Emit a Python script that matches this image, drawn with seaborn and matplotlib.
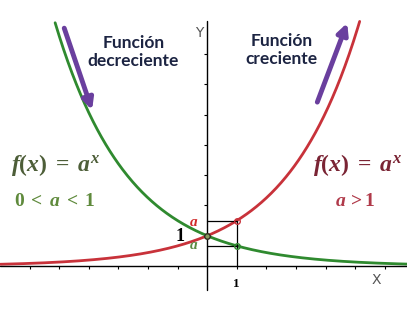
import numpy as np
import pandas as pd
import matplotlib
matplotlib.use("Agg")
import matplotlib.pyplot as plt
import seaborn as sns

# ---- data ----
base_up = 1.5            # a > 1
base_down = 1 / 1.5      # 0 < a < 1
y_cap = 8.1
x_grid = np.linspace(-7.2, 7.0, 600)
x_ticks = [-6, -5, -4, -3, -2, -1, 1, 2, 3, 4, 5, 6]
y_ticks = [1, 2, 3, 4, 5, 6, 7]
title_left = "Función\ndecreciente"
title_right = "Función\ncreciente"

sns.set_style("white")
plt.rcParams["mathtext.fontset"] = "custom"
plt.rcParams["mathtext.it"] = "Liberation Serif:italic:bold"
plt.rcParams["mathtext.rm"] = "Liberation Serif:bold"
plt.rcParams["mathtext.bf"] = "Liberation Serif:bold"

up = pd.DataFrame({"x": x_grid, "y": base_up ** x_grid})
up = up[up["y"] <= y_cap]
down = pd.DataFrame({"x": x_grid, "y": base_down ** x_grid})
down = down[down["y"] <= y_cap]

fig = plt.figure(figsize=(4.07, 3.10), dpi=100)
ax = fig.add_axes([0, 0, 1, 1])
ax.set_xlim(-7.0, 6.75)
ax.set_ylim(-1.45, 8.78)
ax.axis("off")

red = "#c8323a"
green = "#2f8a2f"
sns.lineplot(data=up, x="x", y="y", ax=ax, color=red, lw=2.0)
sns.lineplot(data=down, x="x", y="y", ax=ax, color=green, lw=2.0)

# axes
ax.plot([-7.0, 6.75], [0, 0], color="black", lw=1.0)
ax.plot([0, 0], [-0.79, 8.1], color="black", lw=1.0)
ax.vlines(x_ticks, -0.1, 0, color="black", lw=0.8)
ax.hlines(y_ticks, -0.1, 0, color="black", lw=0.8)

# helper lines
ax.plot([0, 1], [base_up, base_up], color="black", lw=0.9)
ax.plot([0, 1], [base_down, base_down], color="black", lw=0.9)
ax.plot([1, 1], [0, base_up], color="black", lw=0.9)

ax.plot([0], [1], marker="o", ms=4, mfc="#8a9a60", mec="#303020", mew=1)
ax.plot([1], [base_up], marker="o", ms=4, mfc="none", mec=red, mew=1)
ax.plot([1], [base_down], marker="o", ms=4, mfc="none", mec=green, mew=1)

# axis labels
ax.text(-0.27, 7.69, "Y", color="#555555", fontsize=10, ha="center", va="center")
ax.text(5.7, -0.46, "X", color="#555555", fontsize=10, ha="center", va="center")
ax.text(-0.91, 0.99, "1", color="black", fontsize=13, fontweight="bold",
        family="Liberation Serif", ha="center", va="center")
ax.text(1.0, -0.58, "1", color="black", fontsize=9.5, fontweight="bold",
        family="Liberation Serif", ha="center", va="center")
ax.text(-0.47, 1.47, r"$a$", color="#d02828", fontsize=11, ha="center", va="center")
ax.text(-0.47, 0.7, r"$a$", color="#5a8a40", fontsize=11, ha="center", va="center")

# titles
navy = "#1c2442"
ax.text(-2.5, 7.06, title_left, color=navy, fontsize=12.5, fontweight="bold",
        family="Lato", ha="center", va="center", linespacing=1.15)
ax.text(2.5, 7.13, title_right, color=navy, fontsize=12.5, fontweight="bold",
        family="Lato", ha="center", va="center", linespacing=1.15)

# formulas
ax.text(-5.14, 3.33, r"$f(x)\;=\;a^{x}$", color="#4d5e38", fontsize=17, ha="center", va="center")
ax.text(-5.14, 2.18, r"$0\;<\;a\;<\;1$", color="#5f8a3c", fontsize=14, ha="center", va="center")
ax.text(5.07, 3.33, r"$f(x)\;=\;a^{x}$", color="#7a2434", fontsize=17, ha="center", va="center")
ax.text(5.0, 2.18, r"$a\,>1$", color="#b03a4a", fontsize=14, ha="center", va="center")

# arrows
purple = "#6a3f9e"
ax.annotate("", xy=(-3.89, 5.15), xytext=(-4.83, 7.85),
            arrowprops=dict(arrowstyle="-|>", lw=3.5, color=purple, mutation_scale=16,
                            shrinkA=0, shrinkB=0))
ax.annotate("", xy=(4.73, 8.02), xytext=(3.72, 5.41),
            arrowprops=dict(arrowstyle="-|>", lw=3.5, color=purple, mutation_scale=16,
                            shrinkA=0, shrinkB=0))

fig.savefig("out.png", dpi=100)
